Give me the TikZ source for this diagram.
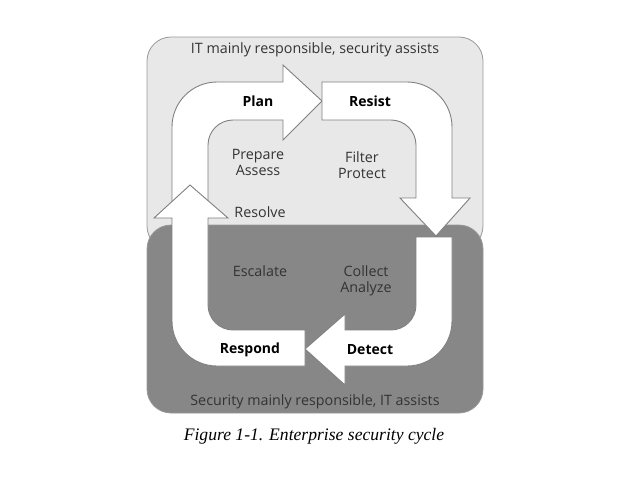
\documentclass[tikz,border=0pt]{standalone}
\usepackage{fontspec}
\setmainfont{Open Sans}
\newfontfamily\capfont{Liberation Serif}
\begin{document}
\begin{tikzpicture}[x=1pt,y=-1pt,
  box/.style={draw=black!40,line width=0.8pt,rounded corners=24pt},
  arr/.style={draw=black!50,fill=white,line width=0.9pt,line join=miter},
  lbl/.style={font=\fontsize{14.3}{16}\selectfont,text=black!80,align=center,inner sep=0pt},
  blbl/.style={font=\fontsize{14}{16}\selectfont\bfseries,text=black,inner sep=0pt}]
\useasboundingbox (0,0) rectangle (638,479);
\fill[white] (0,0) rectangle (638,479);
\path[box,fill=black!9] (147,37) rectangle (483,250);
\path[box,fill=black!47] (147,225) rectangle (483,413);
% Plan
\path[arr] (172,218) -- (172,127) arc[start angle=180,end angle=270,radius=45] -- (283,82) -- (283,65) -- (322,101) -- (283,140) -- (283,120) -- (233,120) arc[start angle=270,end angle=180,radius=25] -- (208,218) -- cycle;
% Resist
\path[arr] (322,82) -- (407,82) arc[start angle=270,end angle=360,radius=45] -- (452,198) -- (470,198) -- (436,236) -- (400,198) -- (416,198) -- (416,145) arc[start angle=0,end angle=-90,radius=25] -- (322,120) -- cycle;
% Detect
\path[arr] (452,237) -- (452,321) arc[start angle=0,end angle=90,radius=45] -- (345,366) -- (345,385) -- (305,349) -- (345,314) -- (345,330) -- (391,330) arc[start angle=90,end angle=0,radius=25] -- (416,237) -- cycle;
% Respond
\path[arr] (305,366) -- (217,366) arc[start angle=90,end angle=180,radius=45] -- (172,218) -- (154,218) -- (190,185) -- (228,218) -- (208,218) -- (208,305) arc[start angle=180,end angle=90,radius=25] -- (305,330) -- cycle;
\node[lbl] (top) at (315,50) {IT mainly responsible, security assists};
\node[lbl] (bot) at (315,402) {Security mainly responsible, IT assists};
\node[blbl] (plan) at (258,101) {Plan};
\node[blbl] (resist) at (370,101) {Resist};
\node[blbl] (respond) at (250,350) {Respond};
\node[blbl] (detect) at (370,350) {Detect};
\node[lbl] (prep) at (258,162) {Prepare\\Assess};
\node[lbl] (filt) at (362,165) {Filter\\Protect};
\node[lbl] (res) at (260,212) {Resolve};
\node[lbl] (esc) at (260,271) {Escalate};
\node[lbl] (coll) at (366,281) {Collect\\Analyze};
\node[font=\capfont\itshape\fontsize{17.6}{20}\selectfont,inner sep=0pt] (cap) at (314,436) {Figure 1-1. Enterprise security cycle};
\end{tikzpicture}
\end{document}
